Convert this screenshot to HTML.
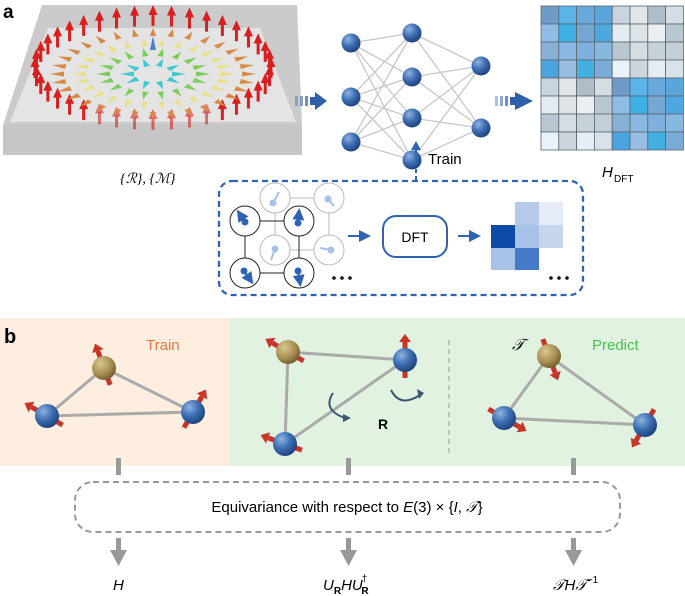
<!DOCTYPE html>
<html><head><meta charset="utf-8"><style>
body{margin:0;background:#fff;}
svg{display:block;font-family:"Liberation Sans",sans-serif;}
</style></head><body>
<svg id="s" width="685" height="596" viewBox="0 0 685 596" xmlns="http://www.w3.org/2000/svg">
<defs>
<radialGradient id="gb" cx="0.35" cy="0.3" r="0.75"><stop offset="0" stop-color="#8fb3e0"/><stop offset="0.5" stop-color="#3d6fb3"/><stop offset="1" stop-color="#1c3f78"/></radialGradient>
<radialGradient id="gg" cx="0.35" cy="0.3" r="0.75"><stop offset="0" stop-color="#d9c88e"/><stop offset="0.6" stop-color="#a88f52"/><stop offset="1" stop-color="#6e5a2c"/></radialGradient>
<marker id="ab" markerWidth="6" markerHeight="6" refX="4" refY="3" orient="auto"><path d="M0,0 L6,3 L0,6z" fill="#2f63b4"/></marker>
</defs>
<!-- panel a -->
<text x="3" y="18" font-size="19" font-weight="bold">a</text>
<polygon points="3,125 42,5 297,5 302,125 302,155 3,155" fill="#cbcbcb"/>
<polygon points="10,122 48,28 260,28 296,122" fill="#e4e4e4"/>
<rect x="3" y="125" width="299" height="30" fill="#c6c6c6"/>
<g id="sky"></g>
<!-- dashed arrows -->
<g fill="#2f5fa8"><rect x="295" y="96" width="3" height="10" opacity=".4"/><rect x="300" y="96" width="3" height="10" opacity=".55"/><rect x="305" y="96" width="3" height="10" opacity=".7"/><rect x="310" y="97" width="5" height="8"/><polygon points="315,92 327,101 315,110"/>
<rect x="495" y="96" width="3" height="10" opacity=".4"/><rect x="500" y="96" width="3" height="10" opacity=".55"/><rect x="505" y="96" width="3" height="10" opacity=".7"/><rect x="510" y="97" width="5" height="8"/><polygon points="515,92 533,101 515,110"/></g>
<g id="nn" stroke="#c8c8c8" stroke-width="1.3"></g>
<g id="mat"></g>
<text x="602" y="177" font-size="15" font-style="italic">H</text><text x="614" y="182" font-size="10">DFT</text>
<text x="120" y="183" font-size="14" font-family="Liberation Serif" font-style="italic">{ℛ}, {ℳ}</text>
<line x1="416" y1="180" x2="416" y2="148" stroke="#2f63b4" stroke-width="2" stroke-dasharray="4,3"/>
<polygon points="411,150 416,141 421,150" fill="#2f63b4"/>
<text x="428" y="164" font-size="15">Train</text>
<rect x="219" y="181" width="364" height="114" rx="13" fill="none" stroke="#2f63b4" stroke-width="2.3" stroke-dasharray="6,4"/>
<!-- lattice -->
<g fill="none" stroke-width="1">
<line x1="275" y1="198" x2="329" y2="198" stroke="#bbb"/><line x1="275" y1="198" x2="275" y2="250" stroke="#bbb"/><line x1="329" y1="198" x2="329" y2="250" stroke="#bbb"/><line x1="275" y1="250" x2="329" y2="250" stroke="#bbb"/>
<circle cx="275" cy="198" r="15" stroke="#bbb" fill="#fff"/><circle cx="329" cy="198" r="15" stroke="#bbb" fill="#fff"/><circle cx="275" cy="250" r="15" stroke="#bbb" fill="#fff"/><circle cx="329" cy="250" r="15" stroke="#bbb" fill="#fff"/>
<line x1="245" y1="221" x2="299" y2="221" stroke="#222"/><line x1="245" y1="221" x2="245" y2="273" stroke="#222"/><line x1="299" y1="221" x2="299" y2="273" stroke="#222"/><line x1="245" y1="273" x2="299" y2="273" stroke="#222"/>
<circle cx="245" cy="221" r="15" stroke="#222" fill="#fff"/><circle cx="299" cy="221" r="15" stroke="#222" fill="#fff"/><circle cx="245" cy="273" r="15" stroke="#222" fill="#fff"/><circle cx="299" cy="273" r="15" stroke="#222" fill="#fff"/>
</g>
<g stroke-width="2" fill="#2f63b4" stroke="#2f63b4">
<circle cx="245" cy="222" r="2.5"/><line x1="245" y1="222" x2="239" y2="213" marker-end="url(#ab)"/>
<circle cx="298" cy="223" r="2.5"/><line x1="298" y1="223" x2="299" y2="212" marker-end="url(#ab)"/>
<circle cx="244" cy="271" r="2.5"/><line x1="244" y1="271" x2="251" y2="281" marker-end="url(#ab)"/>
<circle cx="298" cy="271" r="2.5"/><line x1="298" y1="271" x2="300" y2="283" marker-end="url(#ab)"/>
</g>
<g stroke-width="2" fill="#a9c1e6" stroke="#a9c1e6">
<circle cx="273" cy="203" r="2.5"/><line x1="273" y1="203" x2="279" y2="192"/>
<circle cx="328" cy="199" r="2.5"/><line x1="328" y1="199" x2="334" y2="206"/>
<circle cx="275" cy="249" r="2.5"/><line x1="275" y1="249" x2="271" y2="260"/>
<circle cx="331" cy="250" r="2.5"/><line x1="331" y1="250" x2="320" y2="248"/>
</g>
<g fill="#111"><circle cx="334" cy="278" r="1.8"/><circle cx="342" cy="278" r="1.8"/><circle cx="350" cy="278" r="1.8"/><circle cx="551" cy="278" r="1.8"/><circle cx="559" cy="278" r="1.8"/><circle cx="567" cy="278" r="1.8"/></g>
<line x1="348" y1="236" x2="367" y2="236" stroke="#2f63b4" stroke-width="2" marker-end="url(#ab)"/>
<rect x="383" y="216" width="64" height="41" rx="13" fill="#fff" stroke="#2f63b4" stroke-width="2"/>
<text x="415" y="242" font-size="14" text-anchor="middle">DFT</text>
<line x1="458" y1="236" x2="477" y2="236" stroke="#2f63b4" stroke-width="2" marker-end="url(#ab)"/>
<rect x="515" y="202" width="24" height="23" fill="#b6c9e6"/><rect x="539" y="202" width="24" height="23" fill="#e5ecf7"/>
<rect x="491" y="225" width="24" height="23" fill="#0e4ba6"/><rect x="515" y="225" width="24" height="23" fill="#a8c1e6"/><rect x="539" y="225" width="24" height="23" fill="#c5d5ee"/>
<rect x="491" y="248" width="24" height="22" fill="#a8c1e6"/><rect x="515" y="248" width="24" height="22" fill="#4679c8"/>
<!-- panel b -->
<rect x="0" y="318" width="230" height="148" fill="#fdeee0"/>
<rect x="230" y="318" width="455" height="148" fill="#e1f2e1"/>
<text x="4" y="343" font-size="20" font-weight="bold">b</text>
<text x="146" y="350" font-size="15" fill="#f07840">Train</text>
<text x="592" y="350" font-size="15" fill="#4cc050">Predict</text>
<text x="512" y="350" font-size="16" font-family="Liberation Serif" font-style="italic">𝒯</text>
<line x1="449" y1="340" x2="449" y2="455" stroke="#999" stroke-dasharray="5,4"/>
<g id="mol"></g>
<text x="378" y="429" font-size="14" font-weight="bold">R</text>
<g fill="none" stroke="#3e5570" stroke-width="2">
<path d="M333,393 Q322,410 345,418"/><path d="M391,390 Q400,408 420,395"/></g>
<polygon points="343,414 351,418 343,422" fill="#3e5570"/><polygon points="417,389 424,393 419,399" fill="#3e5570"/>
<g fill="#999"><rect x="116" y="458" width="5" height="17"/><rect x="346" y="458" width="5" height="17"/><rect x="571" y="458" width="5" height="17"/></g>
<rect x="75" y="482" width="545" height="50" rx="18" fill="none" stroke="#999" stroke-width="2" stroke-dasharray="6,4"/>
<text x="347" y="512" font-size="15" text-anchor="middle">Equivariance with respect to <tspan font-style="italic">E</tspan>(3) × {<tspan font-style="italic">I</tspan>, <tspan font-style="italic" font-family="Liberation Serif">𝒯</tspan>}</text>
<g fill="#999"><rect x="116" y="538" width="5" height="14"/><polygon points="110,550 118.5,566 127,550"/>
<rect x="346" y="538" width="5" height="14"/><polygon points="340,550 348.5,566 357,550"/>
<rect x="571" y="538" width="5" height="14"/><polygon points="565,550 573.5,566 582,550"/></g>
<text x="113" y="590" font-size="15" font-style="italic">H</text>
<text x="323" y="590" font-size="15" font-style="italic">U<tspan font-size="10" font-weight="bold" font-style="normal" dy="4">R</tspan><tspan dy="-4">HU</tspan><tspan font-size="10" font-style="normal" dx="-1" dy="-8">†</tspan><tspan font-size="10" font-weight="bold" font-style="normal" dx="-6" dy="12">R</tspan></text>
<text x="553" y="590" font-size="15" font-style="italic" font-family="Liberation Serif">𝒯<tspan font-family="Liberation Sans">H</tspan>𝒯<tspan font-size="10" dy="-7" font-style="normal" font-family="Liberation Sans">−1</tspan></text>
</svg>
<script>
const NS="http://www.w3.org/2000/svg";
function el(p,t,a){const e=document.createElementNS(NS,t);for(const k in a)e.setAttribute(k,a[k]);p.appendChild(e);return e;}
const sky=document.getElementById('sky');
const rings=[[118,52,'#d81e1e',40],[96,42,'#d88a45',32],[74,32,'#e6e08a',26],[50,22,'#7ccd5a',18],[26,12,'#42c8d0',10]];
const cx=153,cy=74;
rings.forEach(([rx,ry,c,n],ri)=>{for(let i=0;i<n;i++){const a=2*Math.PI*i/n;const x=cx+rx*Math.cos(a),y=cy+ry*Math.sin(a);
 if(ri==0){const op=(Math.sin(a)>0.85)?0.6:1;el(sky,'rect',{x:x-1.5,y:y-8,width:3,height:12,fill:c,opacity:op});el(sky,'polygon',{points:`${x-4.5},${y-7} ${x},${y-17} ${x+4.5},${y-7}`,fill:c,opacity:op});}
 else{const dx=Math.cos(a)*7,dy=Math.sin(a)*4;el(sky,'polygon',{points:`${x-dx-dy*0.8},${y-dy+dx*0.35} ${x+dx},${y+dy} ${x-dx+dy*0.8},${y-dy-dx*0.35}`,fill:c});}}});
el(sky,'polygon',{points:'150,50 153,36 156,50',fill:'#4f7fc8'});
const nn=document.getElementById('nn');
const L=[[[351,43],[351,97],[351,142]],[[412,33],[412,77],[412,118],[412,160]],[[481,66],[481,128]]];
for(let l=0;l<2;l++)L[l].forEach(a=>L[l+1].forEach(b=>el(nn,'line',{x1:a[0],y1:a[1],x2:b[0],y2:b[1]})));
L.flat().forEach(p=>el(nn,'circle',{cx:p[0],cy:p[1],r:9.5,fill:'url(#gb)',stroke:'none'}));
const mat=document.getElementById('mat');
const blues=['#6f9cc7','#97bde0','#7fb0de','#4fa7e0','#8fbde6','#5bb4ea','#43b0e2','#86b8e0','#88b0d4','#3fb0e4','#6aa9dc','#7aaad6','#4aa4e0','#8ab8e2','#76a6d2','#5aa6dc'];
const grays=['#c9d4dc','#b8c8d2','#e6eef3','#dde3e7','#e8f2f8','#d6dde2','#c7d1d8','#dfe5e8','#b9c7d0','#d9e2e8','#e9eff2','#ccd6dc','#e3ecf1','#c3ced6','#aebdc8','#d5dde3'];
for(let r=0;r<8;r++)for(let c=0;c<8;c++){const q=(r<4)==(c<4);const i=(r%4)*4+c%4;
 el(mat,'rect',{x:541+c*17.8,y:6+r*18,width:17.8,height:18,fill:q?blues[(i*5)%16]:grays[(i*7)%16],stroke:'#5a6570','stroke-width':0.8});}
const mol=document.getElementById('mol');
function atom(x,y,g,ang,len){const a=ang*Math.PI/180,dx=Math.cos(a),dy=Math.sin(a);
 el(mol,'line',{x1:x-dx*len,y1:y-dy*len,x2:x+dx*len,y2:y+dy*len,stroke:'#c8342a','stroke-width':5});
 el(mol,'polygon',{points:`${x+dx*(len+8)},${y+dy*(len+8)} ${x+dx*len-dy*6},${y+dy*len+dx*6} ${x+dx*len+dy*6},${y+dy*len-dx*6}`,fill:'#c8342a'});
 el(mol,'circle',{cx:x,cy:y,r:12,fill:g?'url(#gg)':'url(#gb)'});}
function tri(p,arr){[[0,1],[1,2],[2,0]].forEach(([i,j])=>el(mol,'line',{x1:p[i][0],y1:p[i][1],x2:p[j][0],y2:p[j][1],stroke:'#aaa','stroke-width':3}));
 p.forEach((q,i)=>atom(q[0],q[1],i==0,arr[i],18));}
tri([[104,368],[47,416],[193,412]],[-110,-150,-60]);
tri([[288,352],[405,360],[285,444]],[-150,-90,-160]);
tri([[549,356],[504,418],[645,425]],[70,30,120]);
</script>
</body></html>
